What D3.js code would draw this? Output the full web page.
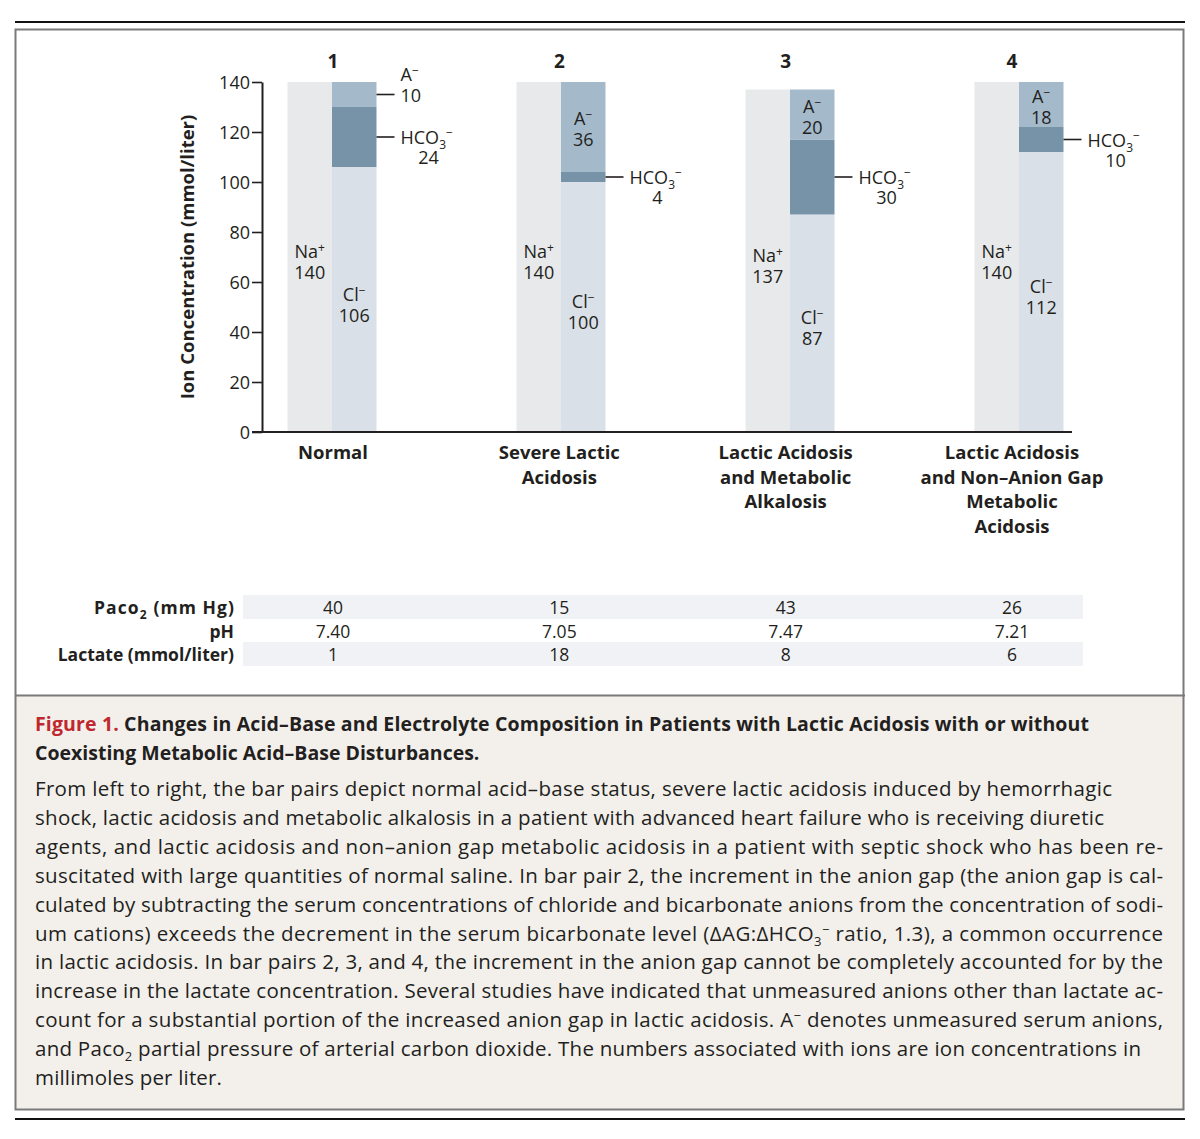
<!DOCTYPE html>
<html>
<head>
<meta charset="utf-8">
<script src="https://cdn.jsdelivr.net/npm/d3@7"></script>
<style>
  html, body { margin: 0; padding: 0; background: #fff; }
  svg { display: block; }
  text { font-family: "Open Sans", "DejaVu Sans", sans-serif; fill: #231f20; }
</style>
</head>
<body>
<script>
// ---------------- DATA ----------------
const groupNumbers = ["1", "2", "3", "4"];
const categoryLines = [
  ["Normal"],
  ["Severe Lactic", "Acidosis"],
  ["Lactic Acidosis", "and Metabolic", "Alkalosis"],
  ["Lactic Acidosis", "and Non\u2013Anion Gap", "Metabolic", "Acidosis"]
];
const sodium = [140, 140, 137, 140];            // Na+
const chloride = [106, 100, 87, 112];           // Cl−
const bicarbonate = [24, 4, 30, 10];            // HCO3−
const unmeasuredAnions = [10, 36, 20, 18];      // A−
const yTicks = [0, 20, 40, 60, 80, 100, 120, 140];
const yAxisTitle = "Ion Concentration (mmol/liter)";

const paco2 = ["40", "15", "43", "26"];
const pH = ["7.40", "7.05", "7.47", "7.21"];
const lactate = ["1", "18", "8", "6"];

const captionTitle1 = "Changes in Acid\u2013Base and Electrolyte Composition in Patients with Lactic Acidosis with or without";
const captionTitle2 = "Coexisting Metabolic Acid\u2013Base Disturbances.";
const captionBody = [
  "From left to right, the bar pairs depict normal acid\u2013base status, severe lactic acidosis induced by hemorrhagic",
  "shock, lactic acidosis and metabolic alkalosis in a patient with advanced heart failure who is receiving diuretic",
  "agents, and lactic acidosis and non\u2013anion gap metabolic acidosis in a patient with septic shock who has been re-",
  "suscitated with large quantities of normal saline. In bar pair 2, the increment in the anion gap (the anion gap is cal-",
  "culated by subtracting the serum concentrations of chloride and bicarbonate anions from the concentration of sodi-",
  "um cations) exceeds the decrement in the serum bicarbonate level (\u0394AG:\u0394HCO{3}^ ratio, 1.3), a common occurrence",
  "in lactic acidosis. In bar pairs 2, 3, and 4, the increment in the anion gap cannot be completely accounted for by the",
  "increase in the lactate concentration. Several studies have indicated that unmeasured anions other than lactate ac-",
  "count for a substantial portion of the increased anion gap in lactic acidosis. A^ denotes unmeasured serum anions,",
  "and Paco{2} partial pressure of arterial carbon dioxide. The numbers associated with ions are ion concentrations in",
  "millimoles per liter."
];
const captionLineEnds = [1112, 1104, 1163, 1163, 1163, 1163, 1163, 1163, 1163, 1141, 222];

// ---------------- LAYOUT ----------------
const W = 1200, H = 1139;
const svg = d3.select("body").append("svg").attr("width", W).attr("height", H);

const xBars = d3.scaleBand().domain(groupNumbers).range([217.5, 1133.5]);
const xText = d3.scalePoint().domain(groupNumbers).range([333, 1012]);
const y = d3.scaleLinear().domain([0, 140]).range([432, 82]);
const center = g => xBars(g) + xBars.bandwidth() / 2;

const colors = { na: "#e8e9eb", cl: "#d9e0e7", hco3: "#7793a7", a: "#a4bacb" };

// frame
svg.append("line").attr("x1", 15).attr("x2", 1185).attr("y1", 22).attr("y2", 22)
  .attr("stroke", "#111").attr("stroke-width", 2);
svg.append("rect").attr("x", 15).attr("y", 696).attr("width", 1169).attr("height", 414)
  .attr("fill", "#f3f0ec");
svg.append("rect").attr("x", 15.5).attr("y", 29.5).attr("width", 1168).attr("height", 1080)
  .attr("fill", "none").attr("stroke", "#7a7a7a").attr("stroke-width", 2);
svg.append("line").attr("x1", 15).attr("x2", 1185).attr("y1", 695.5).attr("y2", 695.5)
  .attr("stroke", "#7a7a7a").attr("stroke-width", 2);
svg.append("line").attr("x1", 15).attr("x2", 1185).attr("y1", 1119).attr("y2", 1119)
  .attr("stroke", "#111").attr("stroke-width", 2);

// ---------------- BARS ----------------
const rows = groupNumbers.map((g, i) => ({
  g, na: sodium[i], cl: chloride[i], hco3: bicarbonate[i], a: unmeasuredAnions[i]
}));

const chart = svg.append("g");
const bw = 44.5;

chart.selectAll("rect.na").data(rows).join("rect").attr("class", "na")
  .attr("x", d => center(d.g) - bw).attr("width", bw)
  .attr("y", d => y(d.na)).attr("height", d => y(0) - y(d.na))
  .attr("fill", colors.na);

const stack = d3.stack().keys(["cl", "hco3", "a"])(rows);
chart.selectAll("g.layer").data(stack).join("g").attr("class", "layer")
  .attr("fill", s => colors[s.key])
  .selectAll("rect").data(s => s).join("rect")
  .attr("x", d => center(d.data.g)).attr("width", bw)
  .attr("y", d => y(d[1])).attr("height", d => y(d[0]) - y(d[1]));

// axis
const axis = svg.append("g").attr("transform", "translate(262,0)")
  .call(d3.axisLeft(y).tickValues(yTicks).tickSize(10).tickSizeOuter(0).tickPadding(2));
axis.select(".domain").attr("stroke", "#231f20").attr("stroke-width", 2);
axis.selectAll(".tick line").attr("stroke", "#231f20").attr("stroke-width", 1.6);
axis.selectAll(".tick text").attr("font-size", 18).attr("font-family", "\"Open Sans\", sans-serif")
  .attr("fill", "#231f20").attr("dy", "0.36em");
svg.append("line").attr("x1", 252).attr("x2", 1072).attr("y1", y(0)).attr("y2", y(0))
  .attr("stroke", "#231f20").attr("stroke-width", 2);

svg.append("text").attr("transform", `translate(194,${(y(0) + y(140)) / 2}) rotate(-90)`)
  .attr("text-anchor", "middle").attr("font-weight", "bold").attr("font-size", 18.5)
  .text(yAxisTitle);

svg.selectAll("text.gnum").data(groupNumbers).join("text").attr("class", "gnum")
  .attr("x", g => xText(g)).attr("y", 68).attr("text-anchor", "middle")
  .attr("font-weight", "bold").attr("font-size", 19).text(g => g);

svg.selectAll("text.cat").data(groupNumbers).join("text").attr("class", "cat")
  .attr("text-anchor", "middle").attr("font-weight", "bold").attr("font-size", 18.5)
  .each(function (g, i) {
    d3.select(this).selectAll("tspan").data(categoryLines[i]).join("tspan")
      .attr("x", xText(g)).attr("y", (l, j) => 459 + j * 24.6).text(l => l);
  });

// ion label helper
function ionName(sel, ion) {
  sel.attr("font-size", 18);
  if (ion === "na") { sel.append("tspan").text("Na"); sel.append("tspan").attr("dy", -6).attr("font-size", 12).text("+"); }
  if (ion === "cl") { sel.append("tspan").text("Cl"); sel.append("tspan").attr("dy", -6).attr("font-size", 12).text("\u2212"); }
  if (ion === "a")  { sel.append("tspan").text("A");  sel.append("tspan").attr("dy", -6).attr("font-size", 12).text("\u2212"); }
  if (ion === "hco3") {
    sel.append("tspan").text("HCO");
    sel.append("tspan").attr("dy", 5).attr("font-size", 12).text("3");
    sel.append("tspan").attr("dy", -12).attr("font-size", 12).text("\u2212");
  }
}

const labels = svg.append("g");
function insideLabel(ion, cx, yMid, value) {
  const t = labels.append("text").attr("x", cx).attr("y", yMid).attr("text-anchor", "middle");
  ionName(t, ion);
  labels.append("text").attr("x", cx).attr("y", yMid + 21).attr("text-anchor", "middle")
    .attr("font-size", 18).text(value);
}
function outsideLabel(ion, xEdge, yMid, value, valueOnLeader) {
  labels.append("line").attr("x1", xEdge).attr("x2", xEdge + 18).attr("y1", yMid).attr("y2", yMid)
    .attr("stroke", "#231f20").attr("stroke-width", 1.6);
  const x0 = xEdge + 24;
  if (valueOnLeader) {
    const t = labels.append("text").attr("x", x0).attr("y", yMid - 14).attr("text-anchor", "start");
    ionName(t, ion);
    labels.append("text").attr("x", x0).attr("y", yMid + 7).attr("font-size", 18).text(value);
  } else {
    const t = labels.append("text").attr("x", x0).attr("y", yMid + 7).attr("text-anchor", "start");
    ionName(t, ion);
    labels.append("text").attr("x", x0 + 28).attr("y", yMid + 27).attr("text-anchor", "middle")
      .attr("font-size", 18).text(value);
  }
}

rows.forEach(d => {
  const c = center(d.g);
  insideLabel("na", c - bw / 2, y(d.na / 2) + 1, d.na);
  insideLabel("cl", c + bw / 2, y(d.cl / 2) + 1, d.cl);
  outsideLabel("hco3", c + bw, y(d.cl + d.hco3 / 2), d.hco3, false);
  if (d.a >= 15) insideLabel("a", c + bw / 2, y(d.cl + d.hco3 + d.a / 2) - 2, d.a);
  else outsideLabel("a", c + bw, y(d.cl + d.hco3 + d.a / 2), d.a, true);
});

// ---------------- TABLE ----------------
const table = svg.append("g");
const tableRows = [
  { label: "paco2", values: paco2, band: true },
  { label: "pH", values: pH, band: false },
  { label: "Lactate (mmol/liter)", values: lactate, band: true }
];
tableRows.forEach((r, i) => {
  const yc = 607 + i * 23.5;
  if (r.band) table.append("rect").attr("x", 243).attr("width", 840).attr("y", yc - 12).attr("height", 24)
    .attr("fill", "#f1f2f5");
  const t = table.append("text").attr("x", 234).attr("y", yc + 7).attr("text-anchor", "end")
    .attr("font-weight", "bold").attr("font-size", 17.5);
  if (r.label === "paco2") {
    t.append("tspan").text("Paco");
    t.append("tspan").attr("dy", 5).attr("font-size", 12).text("2");
    t.append("tspan").attr("dy", -5).text(" (mm Hg)");
    t.attr("textLength", 140).attr("lengthAdjust", "spacing");
  } else t.text(r.label);
  table.selectAll(null).data(groupNumbers).join("text")
    .attr("x", g => xText(g)).attr("y", yc + 7).attr("text-anchor", "middle")
    .attr("font-size", 17.5).text((g, j) => r.values[j]);
});

// ---------------- CAPTION ----------------
const cap = svg.append("g");
const t1 = cap.append("text").attr("x", 35).attr("y", 731).attr("font-weight", "bold").attr("font-size", 19.5);
t1.append("tspan").style("fill", "#c0282e").text("Figure 1.");
t1.append("tspan").text(" " + captionTitle1);
t1.attr("textLength", 1089 - 35).attr("lengthAdjust", "spacing");
cap.append("text").attr("x", 35).attr("y", 760).attr("font-weight", "bold").attr("font-size", 19.5)
  .text(captionTitle2);

function richLine(sel, str) {
  // {x} = subscript, ^ = superscript minus
  const parts = str.split(/(\{[^}]*\}|\^)/).filter(p => p !== "");
  let shift = 0;
  parts.forEach(p => {
    if (p.startsWith("{")) {
      sel.append("tspan").attr("dy", 5 - shift).attr("font-size", 13).text(p.slice(1, -1)); shift = 5;
    } else if (p === "^") {
      sel.append("tspan").attr("dy", -7 - shift).attr("font-size", 13).text("\u2212"); shift = -7;
    } else {
      sel.append("tspan").attr("dy", -shift).text(p); shift = 0;
    }
  });
}
captionBody.forEach((line, i) => {
  const t = cap.append("text").attr("x", 35).attr("y", 796 + i * 28.9).attr("font-size", 20.5);
  richLine(t, line);
  const natural = t.node().getComputedTextLength();
  const target = captionLineEnds[i] - 35;
  if (Math.abs(natural - target) > 2) t.attr("textLength", target).attr("lengthAdjust", "spacing");
});
</script>
</body>
</html>
